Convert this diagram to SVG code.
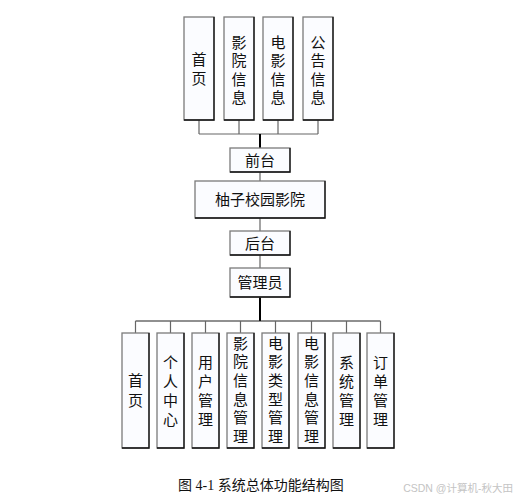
<svg xmlns="http://www.w3.org/2000/svg" width="518" height="500" viewBox="0 0 518 500">
<style>
.bg{fill:#ffffff}
.box{fill:#fbfcff;stroke:#7a7a7a;stroke-width:1.3}
.edge{fill:none;stroke:#111;stroke-width:1.3}
.t{font-family:"Liberation Sans","Noto Sans CJK SC",sans-serif;font-size:15px;fill:#111;text-anchor:middle}
.ln{stroke:#666;stroke-width:1.2;fill:none}
.lnd{stroke:#000;stroke-width:2;fill:none}
.cap{font-family:"Liberation Serif","Noto Sans CJK SC",serif;font-size:14px;fill:#111}
.wm{font-family:"Liberation Sans","Noto Sans CJK SC",sans-serif;font-size:10.5px;fill:#c4c4c4;text-anchor:end}
</style>
<rect class="bg" x="0" y="0" width="518" height="500"/>
<g id="connectors">
<path class="ln" d="M199,120V134M239,120V134M278,120V134M318,120V134M199,134H318"/>
<path class="lnd" d="M260,134V148"/>
<path class="ln" d="M260,172V181M260,218V231M260,255V268"/>
<path class="lnd" d="M260,297V321"/>
<path class="ln" d="M135.5,321H380.5" style="stroke:#222"/>
<path class="ln" d="M135.5,321V333M170.5,321V333M205.5,321V333M240.5,321V333M275.5,321V333M311.5,321V333M346.5,321V333M380.5,321V333"/>
</g>
<g id="n-home-top">
<rect class="box" x="184" y="17" width="30" height="103"/><path class="edge" d="M214,17V120H184"/>
<text class="t"><tspan x="199" y="64.5">首</tspan><tspan x="199" y="83.5">页</tspan></text>
</g>
<g id="n-cinema-info">
<rect class="box" x="224" y="17" width="30" height="103"/><path class="edge" d="M254,17V120H224"/>
<text class="t"><tspan x="239" y="47.5">影</tspan><tspan x="239" y="66">院</tspan><tspan x="239" y="84.5">信</tspan><tspan x="239" y="103">息</tspan></text>
</g>
<g id="n-movie-info">
<rect class="box" x="263" y="17" width="30" height="103"/><path class="edge" d="M293,17V120H263"/>
<text class="t"><tspan x="278" y="47.5">电</tspan><tspan x="278" y="66">影</tspan><tspan x="278" y="84.5">信</tspan><tspan x="278" y="103">息</tspan></text>
</g>
<g id="n-notice">
<rect class="box" x="303" y="17" width="30" height="103"/><path class="edge" d="M333,17V120H303"/>
<text class="t"><tspan x="318" y="47.5">公</tspan><tspan x="318" y="66">告</tspan><tspan x="318" y="84.5">信</tspan><tspan x="318" y="103">息</tspan></text>
</g>
<g id="n-front">
<rect class="box" x="230" y="148" width="60" height="24"/><path class="edge" d="M290,148V172H230"/>
<text class="t" x="260" y="165.5">前台</text>
</g>
<g id="n-root">
<rect class="box" x="195" y="181" width="130" height="37"/><path class="edge" d="M325,181V218H195"/>
<text class="t" x="260" y="205">柚子校园影院</text>
</g>
<g id="n-back">
<rect class="box" x="230" y="231" width="60" height="24"/><path class="edge" d="M290,231V255H230"/>
<text class="t" x="260" y="248.5">后台</text>
</g>
<g id="n-admin">
<rect class="box" x="230" y="268" width="60" height="29"/><path class="edge" d="M290,268V297H230"/>
<text class="t" x="260" y="288">管理员</text>
</g>
<g id="n-home-bottom">
<rect class="box" x="122" y="333" width="27" height="115"/><path class="edge" d="M149,333V448H122"/>
<text class="t"><tspan x="135.5" y="385.5">首</tspan><tspan x="135.5" y="405.5">页</tspan></text>
</g>
<g id="n-personal">
<rect class="box" x="157" y="333" width="27" height="115"/><path class="edge" d="M184,333V448H157"/>
<text class="t"><tspan x="170.5" y="367.5">个</tspan><tspan x="170.5" y="386.5">人</tspan><tspan x="170.5" y="405.5">中</tspan><tspan x="170.5" y="424.5">心</tspan></text>
</g>
<g id="n-user-mgmt">
<rect class="box" x="192" y="333" width="27" height="115"/><path class="edge" d="M219,333V448H192"/>
<text class="t"><tspan x="205.5" y="367.5">用</tspan><tspan x="205.5" y="386.5">户</tspan><tspan x="205.5" y="405.5">管</tspan><tspan x="205.5" y="424.5">理</tspan></text>
</g>
<g id="n-cinema-mgmt">
<rect class="box" x="227" y="333" width="27" height="115"/><path class="edge" d="M254,333V448H227"/>
<text class="t"><tspan x="240.5" y="348.5">影</tspan><tspan x="240.5" y="367.2">院</tspan><tspan x="240.5" y="385.9">信</tspan><tspan x="240.5" y="404.6">息</tspan><tspan x="240.5" y="423.3">管</tspan><tspan x="240.5" y="442">理</tspan></text>
</g>
<g id="n-type-mgmt">
<rect class="box" x="262" y="333" width="27" height="115"/><path class="edge" d="M289,333V448H262"/>
<text class="t"><tspan x="275.5" y="348.5">电</tspan><tspan x="275.5" y="367.2">影</tspan><tspan x="275.5" y="385.9">类</tspan><tspan x="275.5" y="404.6">型</tspan><tspan x="275.5" y="423.3">管</tspan><tspan x="275.5" y="442">理</tspan></text>
</g>
<g id="n-movie-mgmt">
<rect class="box" x="298" y="333" width="27" height="115"/><path class="edge" d="M325,333V448H298"/>
<text class="t"><tspan x="311.5" y="348.5">电</tspan><tspan x="311.5" y="367.2">影</tspan><tspan x="311.5" y="385.9">信</tspan><tspan x="311.5" y="404.6">息</tspan><tspan x="311.5" y="423.3">管</tspan><tspan x="311.5" y="442">理</tspan></text>
</g>
<g id="n-system-mgmt">
<rect class="box" x="333" y="333" width="27" height="115"/><path class="edge" d="M360,333V448H333"/>
<text class="t"><tspan x="346.5" y="367.5">系</tspan><tspan x="346.5" y="386.5">统</tspan><tspan x="346.5" y="405.5">管</tspan><tspan x="346.5" y="424.5">理</tspan></text>
</g>
<g id="n-order-mgmt">
<rect class="box" x="367" y="333" width="27" height="115"/><path class="edge" d="M394,333V448H367"/>
<text class="t"><tspan x="380.5" y="367.5">订</tspan><tspan x="380.5" y="386.5">单</tspan><tspan x="380.5" y="405.5">管</tspan><tspan x="380.5" y="424.5">理</tspan></text>
</g>
<text class="cap" x="178" y="490">图 4-1 系统总体功能结构图</text>
<text class="wm" x="513" y="492">CSDN @计算机-秋大田</text>
</svg>
